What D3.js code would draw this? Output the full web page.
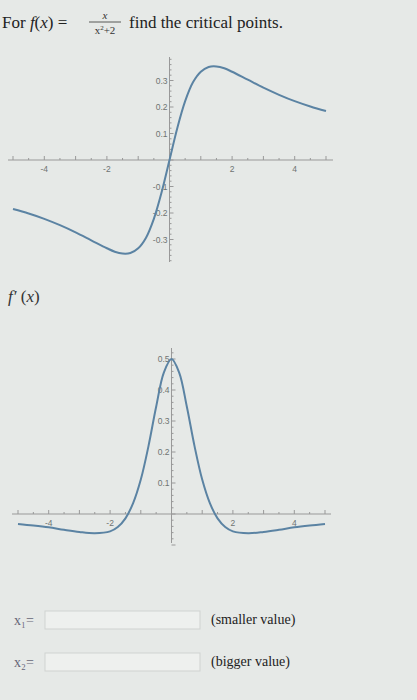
<!DOCTYPE html>
<html><head><meta charset="utf-8">
<script src="https://cdn.jsdelivr.net/npm/d3@7"></script>
<style>
body{margin:0;background:#e6e9e7;font-family:"Liberation Serif",serif;}
</style></head><body>
<svg id="page" width="417" height="700"></svg>
<script>
const xs = [-5,-4.5,-4,-3.5,-3,-2.5,-2,-1.75,-1.5,-1.25,-1,-0.75,-0.5,-0.25,0,0.25,0.5,0.75,1,1.25,1.5,1.75,2,2.5,3,3.5,4,4.5,5];
const fVals = [-0.185,-0.202,-0.222,-0.246,-0.273,-0.303,-0.333,-0.346,-0.353,-0.351,-0.333,-0.293,-0.222,-0.121,0,0.121,0.222,0.293,0.333,0.351,0.353,0.346,0.333,0.303,0.273,0.246,0.222,0.202,0.185];
const dVals = [-0.032,-0.037,-0.043,-0.051,-0.058,-0.062,-0.056,-0.042,-0.014,0.035,0.111,0.219,0.346,0.456,0.5,0.456,0.346,0.219,0.111,0.035,-0.014,-0.042,-0.056,-0.062,-0.058,-0.051,-0.043,-0.037,-0.032];
const xTicks = [-4,-2,2,4];
const fTicks = [-0.3,-0.2,-0.1,0.1,0.2,0.3];
const dTicks = [0.1,0.2,0.3,0.4,0.5];

const svg = d3.select("#page");
const grey = "#6f7472";

function plot(vals, yTicks, o) {
  const x = d3.scaleLinear().domain([-5, 5]).range([o.x0, o.x1]);
  const y = d3.scaleLinear().domain(o.yDom).range([o.yb, o.yt]);
  const g = svg.append("g");
  // x axis
  g.append("line").attr("x1", o.ax0).attr("x2", o.ax1).attr("y1", y(0)).attr("y2", y(0))
    .attr("stroke", "#999");
  d3.range(-5, 5.01, 0.5).forEach(t => {
    g.append("line").attr("x1", x(t)).attr("x2", x(t)).attr("y1", y(0)).attr("y2", y(0) - (t % 1 === 0 ? 4 : 2))
      .attr("stroke", "#999");
  });
  g.selectAll(".xl").data(xTicks).enter().append("text")
    .attr("x", d => x(d)).attr("y", y(0) + 12).attr("text-anchor", "middle")
    .attr("font-family", "Liberation Sans").attr("font-size", 8.5).attr("fill", grey).text(d => d);
  // y axis
  g.append("line").attr("x1", x(0)).attr("x2", x(0)).attr("y1", o.ayt).attr("y2", o.ayb).attr("stroke", "#999");
  d3.range(o.yDom[0], o.yDom[1] + 0.001, 0.02).forEach(t => {
    const major = Math.abs(Math.round(t * 10) - t * 10) < 0.001;
    g.append("line").attr("x1", x(0)).attr("x2", x(0) + (major ? 4 : 2)).attr("y1", y(t)).attr("y2", y(t))
      .attr("stroke", "#999");
  });
  g.selectAll(".yl").data(yTicks).enter().append("text")
    .attr("x", x(0) - 2).attr("y", d => y(d) + 3).attr("text-anchor", "end")
    .attr("font-family", "Liberation Sans").attr("font-size", 8.5).attr("fill", grey).text(d => d);
  // curve
  g.append("path").datum(xs.map((v, i) => [v, vals[i]]))
    .attr("d", d3.line().x(d => x(d[0])).y(d => y(d[1])).curve(d3.curveCatmullRom))
    .attr("fill", "none").attr("stroke", "#5b83a3").attr("stroke-width", 2);
}

plot(fVals, fTicks, {x0: 13, x1: 326, yDom: [-0.38, 0.38], yb: 160 + 0.38 * 265, yt: 160 - 0.38 * 265,
  ax0: 8, ax1: 333, ayt: 57, ayb: 262});
plot(dVals, dTicks, {x0: 18, x1: 325, yDom: [-0.1, 0.52], yb: 514 + 0.1 * 310, yt: 514 - 0.52 * 310,
  ax0: 12, ax1: 331, ayt: 348, ayb: 543});

// header text
const t = svg.append("text").attr("x", 2).attr("y", 28).attr("font-size", 17).attr("fill", "#222");
t.append("tspan").text("For ");
t.append("tspan").attr("font-style", "italic").text("f");
t.append("tspan").text("(");
t.append("tspan").attr("font-style", "italic").text("x");
t.append("tspan").text(") =");
svg.append("line").attr("x1", 89).attr("x2", 121).attr("y1", 22).attr("y2", 22).attr("stroke", "#333").attr("stroke-width", 0.8);
svg.append("text").attr("x", 105).attr("y", 19).attr("text-anchor", "middle").attr("font-size", 11).attr("font-style", "italic").attr("fill", "#333").text("x");
const den = svg.append("text").attr("x", 105).attr("y", 34).attr("text-anchor", "middle").attr("font-size", 11).attr("fill", "#333");
den.append("tspan").text("x");
den.append("tspan").attr("font-size", 7).attr("dy", -4).text("2");
den.append("tspan").attr("dy", 4).text("+2");
svg.append("text").attr("x", 129).attr("y", 28).attr("font-size", 17).attr("fill", "#222").text("find the critical points.");

const fp = svg.append("text").attr("x", 8).attr("y", 302).attr("font-size", 17).attr("fill", "#333");
fp.append("tspan").attr("font-style", "italic").text("f\u2032");
fp.append("tspan").text(" (");
fp.append("tspan").attr("font-style", "italic").text("x");
fp.append("tspan").text(")");

// answer fields
[["x\u2081=", 620, "(smaller value)"], ["x\u2082=", 662, "(bigger value)"]].forEach(r => {
  svg.append("text").attr("x", 14).attr("y", r[1] + 5).attr("font-size", 14).attr("fill", "#667").text(r[0]);
  svg.append("rect").attr("x", 45).attr("y", r[1] - 9).attr("width", 155).attr("height", 18)
    .attr("fill", "#eef0ee").attr("stroke", "#d0d3d1");
  svg.append("text").attr("x", 211).attr("y", r[1] + 4).attr("font-size", 14).attr("fill", "#222").text(r[2]);
});
</script></body></html>
